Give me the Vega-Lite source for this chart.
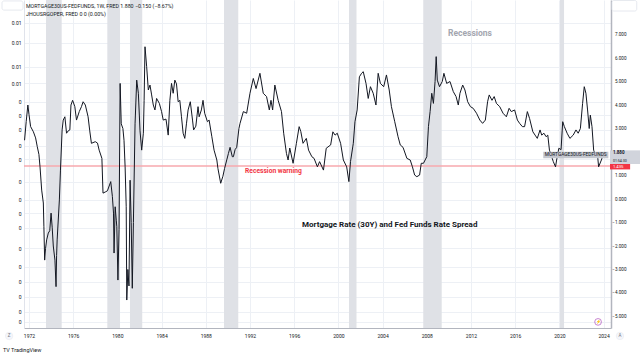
{
  "$schema": "https://vega.github.io/schema/vega-lite/v6.json",
  "width": 587,
  "height": 328,
  "autosize": "none",
  "padding": {"left": 24, "top": 0, "right": 29, "bottom": 27},
  "background": "white",
  "config": {"view": {"stroke": null}, "font": "Roboto", "text": {"font": "Roboto"}},
  "datasets": {
    "one": [{}],
    "spread": [
      {"t":1971.6,"v":2.5},{"t":1971.75,"v":3.3},{"t":1971.9,"v":4.0},{"t":1972.0,"v":3.6},{"t":1972.15,"v":3.08},{"t":1972.4,"v":2.86},{"t":1972.6,"v":2.6},{"t":1972.75,"v":2.23},{"t":1972.9,"v":1.9},{"t":1973.0,"v":1.37},{"t":1973.15,"v":0.38},{"t":1973.3,"v":-0.17},{"t":1973.35,"v":-1.18},{"t":1973.42,"v":-2.6},{"t":1973.5,"v":-2.1},{"t":1973.6,"v":-1.74},{"t":1973.75,"v":-1.45},{"t":1973.88,"v":-1.35},{"t":1974.0,"v":-0.6},{"t":1974.1,"v":-1.2},{"t":1974.2,"v":-2.0},{"t":1974.35,"v":-2.6},{"t":1974.45,"v":-3.73},{"t":1974.5,"v":-2.4},{"t":1974.55,"v":-1.74},{"t":1974.75,"v":-0.04},{"t":1974.85,"v":1.23},{"t":1975.0,"v":2.94},{"t":1975.1,"v":3.36},{"t":1975.25,"v":3.5},{"t":1975.4,"v":2.8},{"t":1975.55,"v":2.9},{"t":1975.7,"v":2.94},{"t":1975.8,"v":4.0},{"t":1975.95,"v":4.2},{"t":1976.15,"v":3.93},{"t":1976.3,"v":3.36},{"t":1976.55,"v":3.72},{"t":1976.75,"v":3.93},{"t":1976.9,"v":4.14},{"t":1977.1,"v":4.0},{"t":1977.35,"v":3.5},{"t":1977.5,"v":2.9},{"t":1977.65,"v":2.37},{"t":1978.0,"v":2.44},{"t":1978.2,"v":2.38},{"t":1978.35,"v":2.08},{"t":1978.6,"v":1.73},{"t":1978.7,"v":0.25},{"t":1978.95,"v":0.31},{"t":1979.1,"v":0.35},{"t":1979.4,"v":0.74},{"t":1979.55,"v":0.1},{"t":1979.65,"v":-0.6},{"t":1979.7,"v":-2.3},{"t":1979.8,"v":-0.33},{"t":1979.9,"v":-0.9},{"t":1979.95,"v":-1.18},{"t":1980.05,"v":-3.45},{"t":1980.15,"v":-1.3},{"t":1980.25,"v":4.92},{"t":1980.35,"v":3.2},{"t":1980.5,"v":3.0},{"t":1980.6,"v":2.5},{"t":1980.7,"v":1.37},{"t":1980.8,"v":-0.33},{"t":1980.85,"v":-4.3},{"t":1980.95,"v":-3.0},{"t":1981.05,"v":-3.7},{"t":1981.15,"v":0.8},{"t":1981.25,"v":-1.0},{"t":1981.35,"v":-3.8},{"t":1981.45,"v":-1.0},{"t":1981.6,"v":3.2},{"t":1981.75,"v":5.06},{"t":1981.9,"v":4.5},{"t":1982.05,"v":2.9},{"t":1982.2,"v":2.08},{"t":1982.35,"v":2.8},{"t":1982.42,"v":4.2},{"t":1982.5,"v":6.48},{"t":1982.65,"v":5.63},{"t":1982.8,"v":4.64},{"t":1982.95,"v":4.85},{"t":1983.1,"v":4.43},{"t":1983.25,"v":4.0},{"t":1983.4,"v":3.79},{"t":1983.55,"v":4.28},{"t":1983.8,"v":4.07},{"t":1984.0,"v":3.72},{"t":1984.15,"v":3.36},{"t":1984.4,"v":3.4},{"t":1984.6,"v":2.72},{"t":1984.75,"v":4.2},{"t":1984.9,"v":4.92},{"t":1985.05,"v":4.5},{"t":1985.2,"v":5.06},{"t":1985.35,"v":4.9},{"t":1985.5,"v":4.14},{"t":1985.65,"v":4.2},{"t":1985.8,"v":3.5},{"t":1985.95,"v":2.8},{"t":1986.1,"v":2.58},{"t":1986.25,"v":3.2},{"t":1986.4,"v":3.79},{"t":1986.6,"v":4.14},{"t":1986.8,"v":3.36},{"t":1986.9,"v":2.94},{"t":1987.1,"v":3.1},{"t":1987.3,"v":3.93},{"t":1987.4,"v":3.5},{"t":1987.6,"v":3.79},{"t":1987.75,"v":4.2},{"t":1987.9,"v":3.65},{"t":1988.15,"v":3.29},{"t":1988.3,"v":3.36},{"t":1988.55,"v":2.65},{"t":1988.75,"v":2.08},{"t":1989.0,"v":1.66},{"t":1989.1,"v":1.3},{"t":1989.35,"v":0.67},{"t":1989.55,"v":0.97},{"t":1989.7,"v":1.3},{"t":1990.05,"v":1.94},{"t":1990.2,"v":2.2},{"t":1990.4,"v":1.8},{"t":1990.5,"v":1.8},{"t":1990.65,"v":2.1},{"t":1990.8,"v":2.2},{"t":1991.0,"v":3.0},{"t":1991.1,"v":3.22},{"t":1991.4,"v":3.72},{"t":1991.7,"v":3.65},{"t":1992.0,"v":4.5},{"t":1992.3,"v":5.13},{"t":1992.55,"v":4.7},{"t":1992.9,"v":5.35},{"t":1993.2,"v":4.5},{"t":1993.5,"v":4.36},{"t":1993.75,"v":3.79},{"t":1993.9,"v":4.2},{"t":1994.05,"v":3.79},{"t":1994.25,"v":4.85},{"t":1994.55,"v":4.2},{"t":1994.85,"v":3.72},{"t":1995.05,"v":2.8},{"t":1995.3,"v":1.94},{"t":1995.45,"v":1.66},{"t":1995.6,"v":2.17},{"t":1995.9,"v":1.52},{"t":1996.2,"v":2.37},{"t":1996.45,"v":3.08},{"t":1996.6,"v":2.87},{"t":1996.8,"v":2.37},{"t":1997.1,"v":2.58},{"t":1997.3,"v":2.08},{"t":1997.6,"v":1.8},{"t":1997.8,"v":1.73},{"t":1998.1,"v":1.37},{"t":1998.3,"v":1.59},{"t":1998.65,"v":1.23},{"t":1998.9,"v":2.16},{"t":1999.3,"v":2.3},{"t":1999.5,"v":2.86},{"t":1999.7,"v":2.72},{"t":1999.9,"v":2.8},{"t":2000.2,"v":2.37},{"t":2000.45,"v":1.66},{"t":2000.75,"v":1.37},{"t":2000.95,"v":0.74},{"t":2001.1,"v":1.6},{"t":2001.35,"v":2.37},{"t":2001.5,"v":3.29},{"t":2001.7,"v":3.79},{"t":2001.9,"v":5.2},{"t":2002.1,"v":5.35},{"t":2002.25,"v":5.42},{"t":2002.5,"v":4.92},{"t":2002.7,"v":4.28},{"t":2002.9,"v":4.78},{"t":2003.15,"v":4.5},{"t":2003.4,"v":4.0},{"t":2003.6,"v":5.35},{"t":2003.8,"v":4.92},{"t":2004.1,"v":4.78},{"t":2004.35,"v":5.28},{"t":2004.6,"v":4.64},{"t":2004.8,"v":3.93},{"t":2005.1,"v":3.29},{"t":2005.4,"v":2.65},{"t":2005.6,"v":2.3},{"t":2005.85,"v":2.2},{"t":2006.2,"v":1.73},{"t":2006.5,"v":1.66},{"t":2006.7,"v":1.37},{"t":2006.9,"v":1.02},{"t":2007.1,"v":0.95},{"t":2007.35,"v":1.02},{"t":2007.5,"v":1.52},{"t":2007.7,"v":1.52},{"t":2008.0,"v":1.8},{"t":2008.15,"v":3.08},{"t":2008.3,"v":3.72},{"t":2008.45,"v":4.5},{"t":2008.6,"v":4.07},{"t":2008.75,"v":5.0},{"t":2008.85,"v":6.06},{"t":2008.95,"v":5.06},{"t":2009.15,"v":4.78},{"t":2009.4,"v":5.0},{"t":2009.55,"v":5.35},{"t":2009.8,"v":4.92},{"t":2010.1,"v":5.0},{"t":2010.4,"v":4.57},{"t":2010.65,"v":4.36},{"t":2010.85,"v":4.0},{"t":2011.0,"v":4.5},{"t":2011.25,"v":4.85},{"t":2011.45,"v":4.64},{"t":2011.7,"v":4.14},{"t":2011.95,"v":3.93},{"t":2012.2,"v":3.86},{"t":2012.5,"v":3.65},{"t":2012.8,"v":3.36},{"t":2013.05,"v":3.22},{"t":2013.3,"v":3.36},{"t":2013.5,"v":4.14},{"t":2013.65,"v":4.43},{"t":2013.9,"v":4.2},{"t":2014.1,"v":4.36},{"t":2014.3,"v":4.07},{"t":2014.6,"v":3.93},{"t":2014.9,"v":3.65},{"t":2015.2,"v":3.5},{"t":2015.45,"v":3.86},{"t":2015.65,"v":3.72},{"t":2015.95,"v":3.79},{"t":2016.2,"v":3.36},{"t":2016.4,"v":3.22},{"t":2016.65,"v":3.08},{"t":2016.85,"v":3.08},{"t":2017.1,"v":3.72},{"t":2017.3,"v":3.43},{"t":2017.6,"v":2.86},{"t":2017.8,"v":2.72},{"t":2018.0,"v":2.58},{"t":2018.25,"v":2.94},{"t":2018.4,"v":2.72},{"t":2018.6,"v":2.8},{"t":2018.8,"v":2.65},{"t":2018.95,"v":2.72},{"t":2019.1,"v":2.08},{"t":2019.25,"v":1.87},{"t":2019.45,"v":1.59},{"t":2019.65,"v":1.37},{"t":2019.75,"v":1.66},{"t":2019.95,"v":2.16},{"t":2020.15,"v":2.1},{"t":2020.3,"v":3.29},{"t":2020.45,"v":3.08},{"t":2020.7,"v":2.8},{"t":2020.95,"v":2.58},{"t":2021.25,"v":2.72},{"t":2021.5,"v":2.94},{"t":2021.7,"v":2.8},{"t":2021.9,"v":3.0},{"t":2022.1,"v":4.07},{"t":2022.25,"v":4.78},{"t":2022.4,"v":4.5},{"t":2022.55,"v":3.79},{"t":2022.7,"v":3.0},{"t":2022.8,"v":3.57},{"t":2022.95,"v":3.08},{"t":2023.1,"v":2.08},{"t":2023.2,"v":1.94},{"t":2023.45,"v":1.87},{"t":2023.55,"v":1.37},{"t":2023.8,"v":1.66},{"t":2023.9,"v":1.8},{"t":2024.0,"v":1.88}
    ],
    "rec": [
      {"s":1973.54,"e":1974.96},{"s":1979.09,"e":1980.24},{"s":1981.14,"e":1982.25},{"s":1989.65,"e":1990.94},{"s":2000.96,"e":2001.64},{"s":2007.68,"e":2009.35},{"s":2020.05,"e":2020.42}
    ]
  },
  "resolve": {"axis": {"x": "independent", "y": "independent"}},
  "layer": [
    {
      "data": {"name": "rec"},
      "mark": {"type": "rect", "color": "#dfe1e6"},
      "encoding": {
        "x": {"field": "s", "type": "quantitative", "scale": {"domain": [1971.55, 2024.67], "nice": false, "zero": false}, "axis": null},
        "x2": {"field": "e"}
      }
    },
    {
      "data": {"name": "one"},
      "mark": {"type": "rule", "color": "#f7a9ae", "strokeWidth": 1.5},
      "encoding": {
        "y": {"datum": 1.4, "type": "quantitative", "scale": {"domain": [-5.49, 8.47], "nice": false, "zero": false}, "axis": {"orient": "left", "title": null, "values": [7.51,6.65,5.63,4.92,4.14,3.57,2.94,2.26,1.69,0.74,-0.04,-0.6,-1.23,-2.09,-2.88,-3.52,-4.16,-4.8,-5.22], "labelExpr": "datum.value > 4.5 ? '0.01' : '0'", "grid": true, "gridColor": "#edf0f5", "ticks": false, "domainColor": "#e0e3eb", "labelFontSize": 5, "labelColor": "#131722", "labelPadding": 3}}
      }
    },
    {
      "data": {"name": "spread"},
      "mark": {"type": "line", "color": "#131722", "strokeWidth": 1},
      "encoding": {
        "x": {"field": "t", "type": "quantitative", "scale": {"domain": [1971.55, 2024.67], "nice": false, "zero": false}, "axis": {"orient": "bottom", "title": null, "values": [1972,1976,1980,1984,1988,1992,1996,2000,2004,2008,2012,2016,2020,2024], "format": "d", "grid": true, "gridColor": "#edf0f5", "ticks": false, "domainColor": "#b2b5be", "labelFontSize": 5, "labelColor": "#131722", "labelPadding": 5, "labelFlush": false, "labelOverlap": false}},
        "y": {"field": "v", "type": "quantitative", "scale": {"domain": [-5.49, 8.47], "nice": false, "zero": false}, "axis": {"orient": "right", "title": null, "values": [-5,-4,-3,-2,-1,0,1,3,4,5,6,7], "format": ".3f", "grid": false, "ticks": false, "domainColor": "#b2b5be", "domainWidth": 1.5, "labelFontSize": 4.6, "labelColor": "#131722", "labelAlign": "right", "labelPadding": 15}}
      }
    },
    {
      "data": {"name": "one"},
      "mark": {"type": "rect", "fill": "#c3c6ce"},
      "encoding": {
        "x": {"datum": 2018.54, "type": "quantitative", "axis": null}, "x2": {"datum": 2024.43},
        "y": {"datum": 2.01, "type": "quantitative", "axis": null}, "y2": {"datum": 1.73}
      }
    },
    {
      "data": {"name": "one"},
      "mark": {"type": "text", "text": "MORTGAGE30US-FEDFUNDS", "fontSize": 4.8, "color": "#131722", "align": "center", "baseline": "middle"},
      "encoding": {"x": {"datum": 2021.48, "type": "quantitative", "axis": null}, "y": {"datum": 1.87, "type": "quantitative", "axis": null}}
    },
    {
      "data": {"name": "one"},
      "mark": {"type": "rect", "fill": "#d1d4dc"},
      "encoding": {
        "x": {"datum": 2024.58, "type": "quantitative", "axis": null}, "x2": {"datum": 2027.3},
        "y": {"datum": 2.07, "type": "quantitative", "axis": null}, "y2": {"datum": 1.49}
      }
    },
    {
      "data": {"name": "one"},
      "mark": {"type": "rect", "fill": "#f23645"},
      "encoding": {
        "x": {"datum": 2024.58, "type": "quantitative", "axis": null}, "x2": {"datum": 2026.4},
        "y": {"datum": 1.49, "type": "quantitative", "axis": null}, "y2": {"datum": 1.26}
      }
    },
    {
      "data": {"name": "one"},
      "mark": {"type": "text", "text": "1.880", "fontSize": 4.5, "fontWeight": "bold", "color": "#131722", "align": "left", "baseline": "middle"},
      "encoding": {"x": {"datum": 2024.84, "type": "quantitative", "axis": null}, "y": {"datum": 1.94, "type": "quantitative", "axis": null}}
    },
    {
      "data": {"name": "one"},
      "mark": {"type": "text", "text": "01:54:30", "fontSize": 3.6, "color": "#131722", "align": "left", "baseline": "middle"},
      "encoding": {"x": {"datum": 2024.84, "type": "quantitative", "axis": null}, "y": {"datum": 1.62, "type": "quantitative", "axis": null}}
    },
    {
      "data": {"name": "one"},
      "mark": {"type": "text", "text": "1.435", "fontSize": 4.2, "color": "white", "align": "left", "baseline": "middle"},
      "encoding": {"x": {"datum": 2024.84, "type": "quantitative", "axis": null}, "y": {"datum": 1.37, "type": "quantitative", "axis": null}}
    },
    {
      "data": {"name": "one"},
      "mark": {"type": "rect", "fill": "white", "stroke": "#e0e3eb", "strokeWidth": 0.8, "cornerRadius": 2},
      "encoding": {
        "x": {"datum": 2024.76, "type": "quantitative", "axis": null}, "x2": {"datum": 2027.0},
        "y": {"datum": 8.45, "type": "quantitative", "axis": null}, "y2": {"datum": 8.0}
      }
    },
    {
      "data": {"name": "one"},
      "mark": {"type": "rect", "fill": "white", "stroke": "#e0e3eb", "strokeWidth": 0.8, "cornerRadius": 2},
      "encoding": {
        "x": {"datum": 1969.56, "type": "quantitative", "axis": null}, "x2": {"datum": 1971.46},
        "y": {"datum": 8.43, "type": "quantitative", "axis": null}, "y2": {"datum": 8.04}
      }
    },
    {
      "data": {"name": "one"},
      "mark": {"type": "text", "text": "MORTGAGE30US-FEDFUNDS, 1W, FRED  1.880  −0.150 (−8.67%)", "fontSize": 5.3, "color": "#131722", "align": "left", "baseline": "middle"},
      "encoding": {"x": {"datum": 1971.73, "type": "quantitative", "axis": null}, "y": {"datum": 8.23, "type": "quantitative", "axis": null}}
    },
    {
      "data": {"name": "one"},
      "mark": {"type": "text", "text": "JHOUSRGOPER, FRED  0  0 (0.00%)", "fontSize": 5.3, "color": "#131722", "align": "left", "baseline": "middle"},
      "encoding": {"x": {"datum": 1971.73, "type": "quantitative", "axis": null}, "y": {"datum": 7.89, "type": "quantitative", "axis": null}}
    },
    {
      "data": {"name": "one"},
      "mark": {"type": "text", "text": "Recessions", "fontSize": 8.5, "fontWeight": "bold", "color": "#a3a6af", "align": "center", "baseline": "middle"},
      "encoding": {"x": {"datum": 2011.91, "type": "quantitative", "axis": null}, "y": {"datum": 7.06, "type": "quantitative", "axis": null}}
    },
    {
      "data": {"name": "one"},
      "mark": {"type": "text", "text": "Recession warning", "fontSize": 6.7, "fontWeight": "bold", "color": "#f23645", "align": "left", "baseline": "middle"},
      "encoding": {"x": {"datum": 1991.55, "type": "quantitative", "axis": null}, "y": {"datum": 1.19, "type": "quantitative", "axis": null}}
    },
    {
      "data": {"name": "one"},
      "mark": {"type": "text", "text": "Mortgage Rate (30Y) and Fed Funds Rate Spread", "fontSize": 8, "fontWeight": "bold", "color": "#131722", "align": "left", "baseline": "middle"},
      "encoding": {"x": {"datum": 1996.71, "type": "quantitative", "axis": null}, "y": {"datum": -1.11, "type": "quantitative", "axis": null}}
    },
    {
      "data": {"name": "one"},
      "mark": {"type": "point", "shape": "circle", "filled": false, "stroke": "#9c27b0", "strokeWidth": 0.8, "size": 45},
      "encoding": {"x": {"datum": 2023.5, "type": "quantitative", "axis": null}, "y": {"datum": -5.23, "type": "quantitative", "axis": null}}
    },
    {
      "data": {"name": "one"},
      "mark": {"type": "text", "text": "⚡", "fontSize": 4, "color": "#9c27b0", "align": "center", "baseline": "middle"},
      "encoding": {"x": {"datum": 2023.5, "type": "quantitative", "axis": null}, "y": {"datum": -5.23, "type": "quantitative", "axis": null}}
    },
    {
      "data": {"name": "one"},
      "mark": {"type": "point", "shape": "circle", "filled": true, "fill": "#f0f3fa", "stroke": "#e0e3eb", "strokeWidth": 0.6, "size": 55},
      "encoding": {"x": {"datum": 1970.2, "type": "quantitative", "axis": null}, "y": {"datum": -5.83, "type": "quantitative", "axis": null}}
    },
    {
      "data": {"name": "one"},
      "mark": {"type": "point", "shape": "circle", "filled": true, "fill": "#f0f3fa", "stroke": "#e0e3eb", "strokeWidth": 0.6, "size": 55},
      "encoding": {"x": {"datum": 2025.48, "type": "quantitative", "axis": null}, "y": {"datum": -5.83, "type": "quantitative", "axis": null}}
    },
    {
      "data": {"name": "one"},
      "mark": {"type": "text", "text": "Z", "fontSize": 4.5, "color": "#787b86", "align": "center", "baseline": "middle"},
      "encoding": {"x": {"datum": 1970.2, "type": "quantitative", "axis": null}, "y": {"datum": -5.83, "type": "quantitative", "axis": null}}
    },
    {
      "data": {"name": "one"},
      "mark": {"type": "text", "text": "A", "fontSize": 4.5, "color": "#787b86", "align": "center", "baseline": "middle"},
      "encoding": {"x": {"datum": 2025.48, "type": "quantitative", "axis": null}, "y": {"datum": -5.83, "type": "quantitative", "axis": null}}
    },
    {
      "data": {"name": "one"},
      "mark": {"type": "text", "text": "TV TradingView", "fontSize": 5.5, "color": "#131722", "align": "left", "baseline": "middle"},
      "encoding": {"x": {"datum": 1969.65, "type": "quantitative", "axis": null}, "y": {"datum": -6.43, "type": "quantitative", "axis": null}}
    }
  ]
}
